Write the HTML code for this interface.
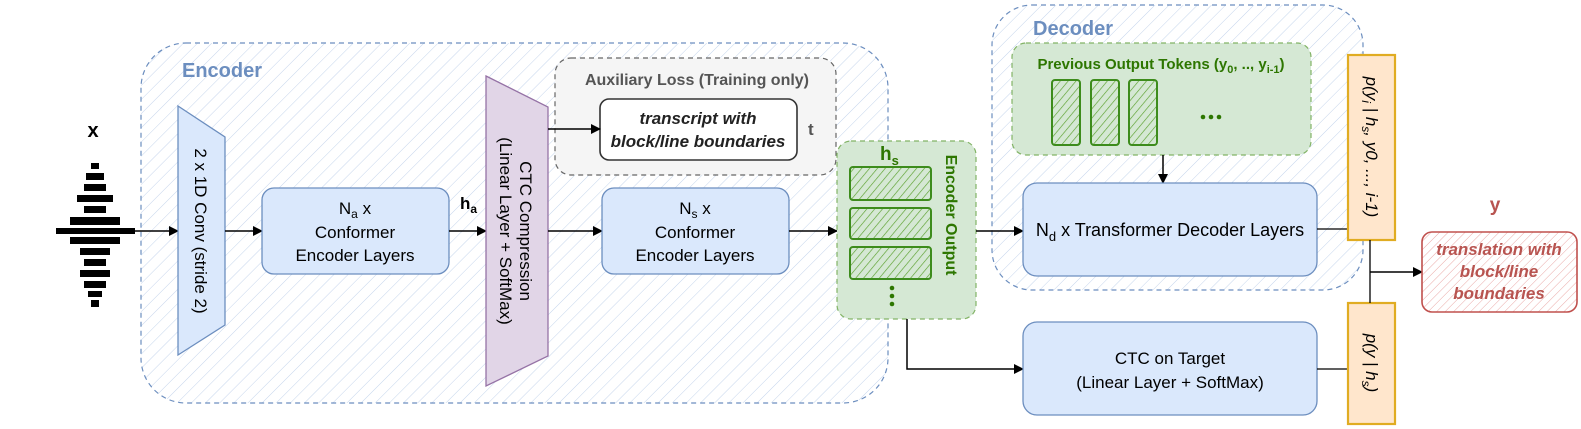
<!DOCTYPE html>
<html><head><meta charset="utf-8"><style>
html,body{margin:0;padding:0;background:#fff;}
svg{display:block;font-family:"Liberation Sans",Arial,sans-serif;}
</style></head><body>
<svg width="1581" height="429" viewBox="0 0 1581 429" xmlns="http://www.w3.org/2000/svg">
<defs>
<pattern id="hb" width="10" height="10" patternUnits="userSpaceOnUse" patternTransform="rotate(45)">
<line x1="0" y1="0" x2="0" y2="10" stroke="#c5d5ec" stroke-width="1"/></pattern>
<pattern id="hg" width="6" height="6" patternUnits="userSpaceOnUse" patternTransform="rotate(40)">
<line x1="0" y1="0" x2="0" y2="6" stroke="#5aa02c" stroke-width="1.3"/></pattern>
<pattern id="hr" width="6" height="6" patternUnits="userSpaceOnUse" patternTransform="rotate(45)">
<line x1="0" y1="0" x2="0" y2="6" stroke="#eaa9a7" stroke-width="1"/></pattern>
<marker id="ar" markerWidth="10" markerHeight="10" refX="9" refY="5" orient="auto" markerUnits="userSpaceOnUse">
<path d="M0,0 L10,5 L0,10 z" fill="#000"/></marker>
</defs>

<!-- Encoder container -->
<rect x="141" y="43" width="747" height="360" rx="45" fill="url(#hb)" stroke="#6c8ebf" stroke-width="1.2" stroke-dasharray="5,4"/>
<text x="182" y="77" font-size="20" font-weight="bold" fill="#6c8ebf">Encoder</text>

<!-- Decoder container -->
<rect x="992" y="5" width="371" height="285" rx="40" fill="url(#hb)" stroke="#6c8ebf" stroke-width="1.2" stroke-dasharray="5,4"/>
<text x="1033" y="35" font-size="20" font-weight="bold" fill="#6c8ebf">Decoder</text>

<!-- X and waveform -->
<text x="93" y="137" font-size="20" font-weight="bold" text-anchor="middle">x</text>
<g fill="#000">
<rect x="91" y="163" width="8" height="6"/>
<rect x="86" y="173" width="18" height="7"/>
<rect x="84" y="184" width="22" height="7"/>
<rect x="77" y="195" width="36" height="7"/>
<rect x="84" y="206" width="22" height="7"/>
<rect x="70" y="217" width="50" height="8"/>
<rect x="56" y="228" width="79" height="6"/>
<rect x="70" y="237" width="50" height="7"/>
<rect x="80" y="248" width="30" height="7"/>
<rect x="84" y="259" width="22" height="7"/>
<rect x="80" y="270" width="30" height="7"/>
<rect x="84" y="281" width="22" height="7"/>
<rect x="91" y="300" width="8" height="7"/>
<rect x="88" y="291" width="14" height="6"/>
</g>
<line x1="135" y1="231" x2="178" y2="231" stroke="#000" stroke-width="1.5" marker-end="url(#ar)"/>

<!-- Conv -->
<polygon points="178,106 225,137 225,325 178,355" fill="#dae8fc" stroke="#6c8ebf" stroke-width="1.3"/>
<text transform="translate(195,231) rotate(90)" font-size="17" text-anchor="middle">2 x 1D Conv (stride 2)</text>
<line x1="225" y1="231" x2="262" y2="231" stroke="#000" stroke-width="1.5" marker-end="url(#ar)"/>

<!-- Na -->
<rect x="262" y="188" width="187" height="86" rx="12" fill="#dae8fc" stroke="#6c8ebf" stroke-width="1.3"/>
<text x="355" y="214" font-size="17" text-anchor="middle">N<tspan font-size="12" dy="4">a</tspan><tspan dy="-4"> x</tspan></text>
<text x="355" y="238" font-size="17" text-anchor="middle">Conformer</text>
<text x="355" y="261" font-size="17" text-anchor="middle">Encoder Layers</text>
<line x1="449" y1="231" x2="486" y2="231" stroke="#000" stroke-width="1.5" marker-end="url(#ar)"/>
<text x="460" y="209" font-size="17" font-weight="bold">h<tspan font-size="12" dy="4">a</tspan></text>

<!-- CTC compression -->
<polygon points="486,76 548,107 548,356 486,386" fill="#e1d5e7" stroke="#9673a6" stroke-width="1.3"/>
<text transform="translate(520,231) rotate(90)" font-size="17" text-anchor="middle">CTC Compression</text>
<text transform="translate(500,231) rotate(90)" font-size="17" text-anchor="middle">(Linear Layer + SoftMax)</text>

<!-- Aux loss -->
<rect x="555" y="58" width="281" height="117" rx="16" fill="#f5f5f5" stroke="#666" stroke-width="1.2" stroke-dasharray="5,4"/>
<text x="697" y="85" font-size="16" font-weight="bold" fill="#555" text-anchor="middle">Auxiliary Loss (Training only)</text>
<rect x="600" y="99" width="197" height="61" rx="9" fill="#fff" stroke="#333" stroke-width="1.6"/>
<text x="698" y="124" font-size="17" font-weight="bold" font-style="italic" fill="#222" text-anchor="middle">transcript with</text>
<text x="698" y="147" font-size="17" font-weight="bold" font-style="italic" fill="#222" text-anchor="middle">block/line boundaries</text>
<text x="808" y="135" font-size="17" font-weight="bold" fill="#555">t</text>
<line x1="548" y1="129" x2="600" y2="129" stroke="#000" stroke-width="1.5" marker-end="url(#ar)"/>

<!-- Ns -->
<line x1="548" y1="231" x2="602" y2="231" stroke="#000" stroke-width="1.5" marker-end="url(#ar)"/>
<rect x="602" y="188" width="187" height="86" rx="12" fill="#dae8fc" stroke="#6c8ebf" stroke-width="1.3"/>
<text x="695" y="214" font-size="17" text-anchor="middle">N<tspan font-size="12" dy="4">s</tspan><tspan dy="-4"> x</tspan></text>
<text x="695" y="238" font-size="17" text-anchor="middle">Conformer</text>
<text x="695" y="261" font-size="17" text-anchor="middle">Encoder Layers</text>
<line x1="789" y1="231" x2="837" y2="231" stroke="#000" stroke-width="1.5" marker-end="url(#ar)"/>

<!-- Encoder output -->
<rect x="837" y="141" width="139" height="178" rx="14" fill="#d5e8d4" stroke="#82b366" stroke-width="1.2" stroke-dasharray="5,4"/>
<text x="880" y="160" font-size="19" font-weight="bold" fill="#2d7600">h<tspan font-size="13" dy="5">s</tspan></text>
<g stroke="#3d8c1c" stroke-width="2">
<rect x="850" y="167" width="81" height="33" rx="3" fill="url(#hg)"/>
<rect x="850" y="208" width="81" height="31" rx="3" fill="url(#hg)"/>
<rect x="850" y="247" width="81" height="32" rx="3" fill="url(#hg)"/>
</g>
<g fill="#2d7600"><circle cx="892" cy="288" r="2.3"/><circle cx="892" cy="296" r="2.3"/><circle cx="892" cy="304" r="2.3"/></g>
<text transform="translate(946,215) rotate(90)" font-size="16" font-weight="bold" fill="#2d7600" text-anchor="middle">Encoder Output</text>

<line x1="976" y1="231" x2="1023" y2="231" stroke="#000" stroke-width="1.5" marker-end="url(#ar)"/>
<polyline points="907,319 907,369 1023,369" fill="none" stroke="#000" stroke-width="1.5" marker-end="url(#ar)"/>

<!-- Previous tokens -->
<rect x="1012" y="43" width="299" height="112" rx="14" fill="#d5e8d4" stroke="#82b366" stroke-width="1.2" stroke-dasharray="5,4"/>
<text x="1161" y="69" font-size="15" font-weight="bold" fill="#2d7600" text-anchor="middle">Previous Output Tokens (y<tspan font-size="11" dy="4">0</tspan><tspan dy="-4">, .., y</tspan><tspan font-size="11" dy="4">i-1</tspan><tspan dy="-4">)</tspan></text>
<g stroke="#3d8c1c" stroke-width="2">
<rect x="1052" y="80" width="28" height="65" rx="3" fill="url(#hg)"/>
<rect x="1091" y="80" width="28" height="65" rx="3" fill="url(#hg)"/>
<rect x="1129" y="80" width="28" height="65" rx="3" fill="url(#hg)"/>
</g>
<g fill="#2d7600"><circle cx="1203" cy="117" r="2.3"/><circle cx="1211" cy="117" r="2.3"/><circle cx="1219" cy="117" r="2.3"/></g>
<line x1="1163" y1="155" x2="1163" y2="183" stroke="#000" stroke-width="1.5" marker-end="url(#ar)"/>

<!-- Transformer -->
<rect x="1023" y="183" width="294" height="93" rx="14" fill="#dae8fc" stroke="#6c8ebf" stroke-width="1.3"/>
<text x="1170" y="236" font-size="18" text-anchor="middle">N<tspan font-size="13" dy="5">d</tspan><tspan dy="-5"> x Transformer Decoder Layers</tspan></text>

<!-- CTC target -->
<rect x="1023" y="322" width="294" height="93" rx="14" fill="#dae8fc" stroke="#6c8ebf" stroke-width="1.3"/>
<text x="1170" y="364" font-size="17" text-anchor="middle">CTC on Target</text>
<text x="1170" y="388" font-size="17" text-anchor="middle">(Linear Layer + SoftMax)</text>

<line x1="1317" y1="229" x2="1348" y2="229" stroke="#000" stroke-width="1.3"/>
<line x1="1317" y1="369" x2="1348" y2="369" stroke="#000" stroke-width="1.3"/>

<!-- bars -->
<rect x="1348" y="55" width="47" height="185" fill="#ffe6cc" stroke="#e0ac22" stroke-width="2.2"/>
<text transform="translate(1366,147) rotate(90)" font-size="17" font-style="italic" text-anchor="middle">p(y<tspan font-size="12" dy="4">i</tspan><tspan dy="-4"> | h</tspan><tspan font-size="12" dy="4">s</tspan><tspan dy="-4">, y0, ..., i-1)</tspan></text>
<rect x="1348" y="303" width="47" height="121" fill="#ffe6cc" stroke="#e0ac22" stroke-width="2.2"/>
<text transform="translate(1366,363) rotate(90)" font-size="17" font-style="italic" text-anchor="middle">p(y | h<tspan font-size="12" dy="4">s</tspan><tspan dy="-4">)</tspan></text>

<line x1="1370" y1="240" x2="1370" y2="303" stroke="#000" stroke-width="1.3"/>
<line x1="1370" y1="272" x2="1422" y2="272" stroke="#000" stroke-width="1.5" marker-end="url(#ar)"/>

<!-- output -->
<text x="1495" y="211" font-size="19" font-weight="bold" fill="#b85450" text-anchor="middle">y</text>
<rect x="1422" y="232" width="155" height="80" rx="10" fill="url(#hr)" stroke="#c0504d" stroke-width="1.6"/>
<text x="1499" y="255" font-size="17" font-weight="bold" font-style="italic" fill="#b85450" text-anchor="middle">translation with</text>
<text x="1499" y="277" font-size="17" font-weight="bold" font-style="italic" fill="#b85450" text-anchor="middle">block/line</text>
<text x="1499" y="299" font-size="17" font-weight="bold" font-style="italic" fill="#b85450" text-anchor="middle">boundaries</text>
</svg>
</body></html>
